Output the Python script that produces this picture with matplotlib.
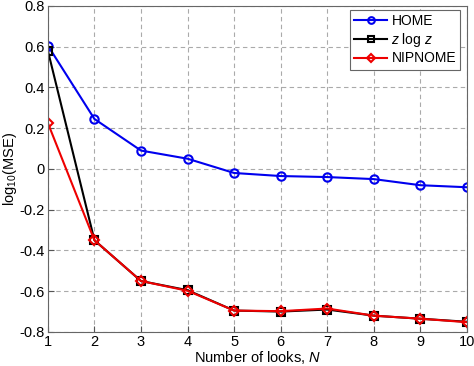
import matplotlib
matplotlib.use("Agg")
import matplotlib.pyplot as plt

plt.rcParams['font.family'] = ['Liberation Sans', 'DejaVu Sans']
plt.rcParams['mathtext.fontset'] = 'custom'
plt.rcParams['mathtext.it'] = 'Liberation Sans:italic'
plt.rcParams['mathtext.rm'] = 'Liberation Sans'

# Number of looks
looks = [1, 2, 3, 4, 5, 6, 7, 8, 9, 10]

# log10(MSE) for each method
home = [0.605, 0.245, 0.09, 0.05, -0.02, -0.035, -0.04, -0.05, -0.08, -0.09]
zlogz = [0.58, -0.35, -0.55, -0.595, -0.695, -0.70, -0.69, -0.72, -0.735, -0.75]
nipnome = [0.225, -0.35, -0.55, -0.598, -0.695, -0.698, -0.685, -0.72, -0.735, -0.752]

fig = plt.figure(figsize=(4.74, 3.66), dpi=100)
ax = fig.add_axes([0.101, 0.093, 0.884, 0.891])

ax.plot(looks, home, color='#0000ee', marker='o', markersize=6, markerfacecolor='none',
        markeredgewidth=1.5, linewidth=1.5, label='HOME')
ax.plot(looks, zlogz, color='black', marker='s', markersize=5.5, markerfacecolor='none',
        markeredgewidth=1.5, linewidth=1.5, label=r'$z$ log $z$')
ax.plot(looks, nipnome, color='#ee0000', marker='D', markersize=5, markerfacecolor='none',
        markeredgewidth=1.5, linewidth=1.5, label='NIPNOME')

ax.set_xlim(1, 10)
ax.set_ylim(-0.8, 0.8)
ax.set_xticks(looks)
ax.set_xticklabels([str(v) for v in looks])
ax.set_yticks([-0.8, -0.6, -0.4, -0.2, 0, 0.2, 0.4, 0.6, 0.8])
ax.set_yticklabels(['-0.8', '-0.6', '-0.4', '-0.2', '0', '0.2', '0.4', '0.6', '0.8'])
ax.tick_params(direction='in', labelsize=10.5, length=4, pad=2, color='#555555')
for sp in ax.spines.values():
    sp.set_color('#666666')

ax.grid(True, linestyle=(0, (4, 3)), color='#aaaaaa', linewidth=0.8)

ax.set_xlabel(r'Number of looks, $N$', fontsize=10.5, labelpad=0)
ax.set_ylabel(r'log$_{10}$(MSE)', fontsize=10.5, labelpad=0)
ax.yaxis.set_label_coords(-0.068, 0.5)

leg = ax.legend(loc='upper right', fontsize=10, fancybox=False, framealpha=1,
                edgecolor='#666666', handlelength=2.4, borderpad=0.3,
                labelspacing=0.2, handletextpad=0.3, borderaxespad=0,
                markerscale=0.8, bbox_to_anchor=(0.984, 0.988))
leg.get_frame().set_linewidth(0.8)

fig.savefig('out.png', dpi=100)
